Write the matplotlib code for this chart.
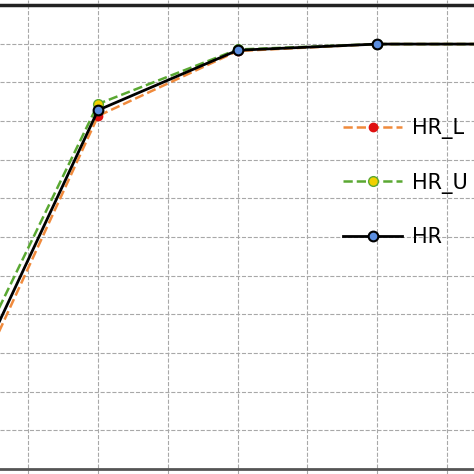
import numpy as np
import matplotlib.pyplot as plt

x = [0, 1, 2, 3, 4]
hr = [0.155, 0.928, 1.083, 1.099, 1.099]
hr_l = [0.127, 0.913, 1.081, 1.099, 1.099]
hr_u = [0.200, 0.944, 1.085, 1.099, 1.099]

fig = plt.figure(figsize=(4.74, 4.74), dpi=100)
ax = fig.add_axes([0, 0, 1, 1])
ax.set_xlim(0.2975, 3.695)
ax.set_ylim(-0.013, 1.213)
for s in ax.spines.values():
    s.set_visible(False)
ax.set_xticks(np.arange(0.5, 3.75, 0.5))
ax.set_yticks(np.arange(0.1, 1.15, 0.1))
ax.tick_params(length=0, labelleft=False, labelbottom=False)
ax.grid(True, color='#a8a8a8', linestyle='--', linewidth=0.8)
ax.axhline(1.2, color='#222222', lw=2.5)
ax.axhline(0.0, color='#555555', lw=2)

ax.plot(x, hr_l, '--o', color='#f08a3c', lw=1.8, ms=6, mfc='#e01010', mec='#e01010', label='HR_L')
ax.plot(x, hr_u, '--o', color='#5aa832', lw=1.8, ms=7, mfc='#f0d000', mec='#5aa832', label='HR_U')
ax.plot(x, hr, '-o', color='black', lw=2, ms=7, mfc='#5b8ee0', mec='black', mew=1.5, label='HR')

ax.legend(loc='upper left', bbox_to_anchor=(0.685, 0.79), frameon=False,
          fontsize=15, labelspacing=1.6, handlelength=2.8, handletextpad=0.5)
fig.savefig('out.png', dpi=100)
